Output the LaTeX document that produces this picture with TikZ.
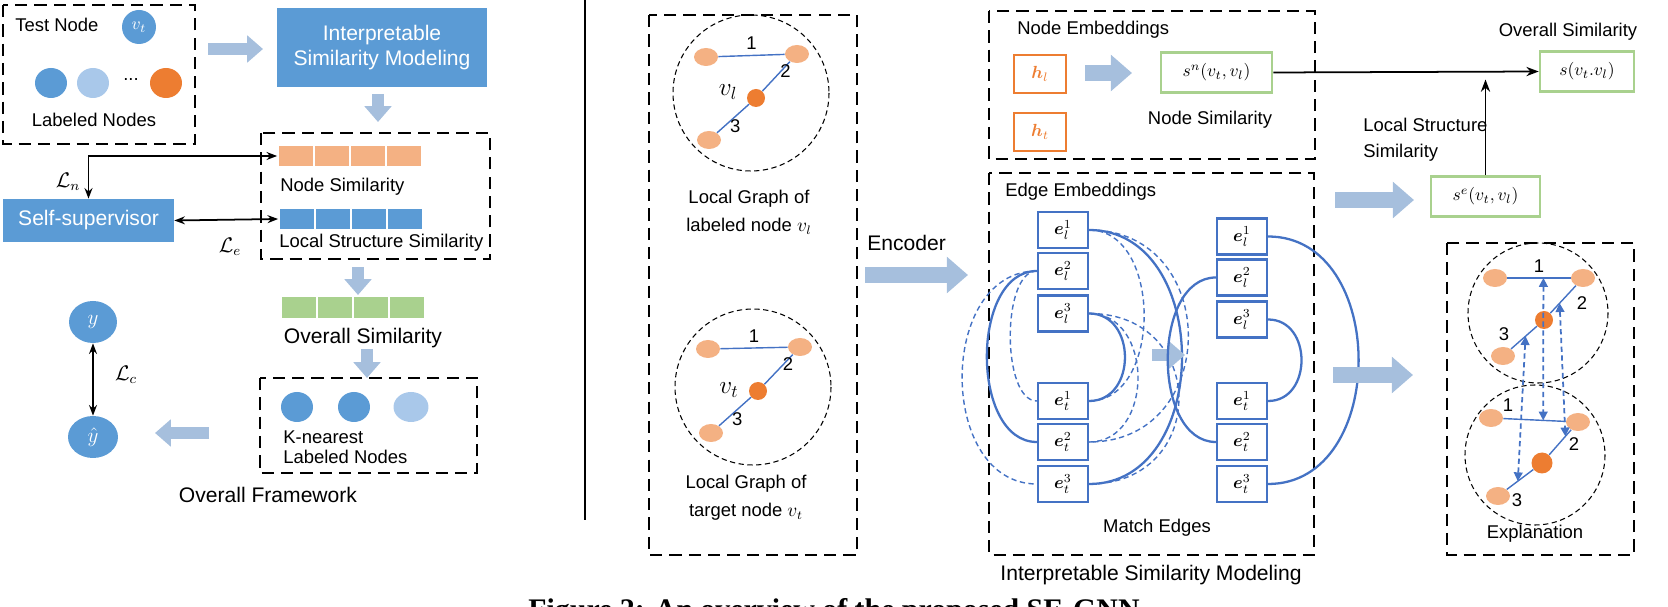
\documentclass[tikz,border=0pt]{standalone}
\usepackage{fontspec}
\usepackage{amsmath}
\setmainfont{Liberation Sans}
\newfontfamily\capfont{Liberation Serif}
\usetikzlibrary{arrows.meta,calc,shapes.geometric}

\definecolor{nblue}{HTML}{5B9BD5}
\definecolor{nlight}{HTML}{A9C8EA}
\definecolor{norange}{HTML}{ED7D31}
\definecolor{npeach}{HTML}{F4B183}
\definecolor{ngreen}{HTML}{A9D18E}
\definecolor{arrowc}{HTML}{A6BFDD}
\definecolor{eblue}{HTML}{4472C4}

\tikzset{
  txt/.style={font=\fontsize{10.5}{12}\selectfont, inner sep=0pt},
  dbox/.style={draw, line width=1.3pt, dash pattern=on 7pt off 4pt},
  bigarrow/.style={draw=arrowc, line width=7pt, -{Triangle[width=15pt,length=9pt]}},
  blk/.style={draw, line width=1pt},
  bluebox/.style={fill=nblue, text=white, font=\fontsize{12}{14}\selectfont, align=center, inner sep=0pt},
  bnode/.style={fill=nblue, draw=none, ellipse, minimum width=0.64cm, minimum height=0.6cm, inner sep=0pt},
  cell/.style={draw=white, line width=1pt, minimum width=0.72cm, minimum height=0.44cm, inner sep=0pt},
  peach/.style={fill=npeach, draw=none, ellipse, minimum width=0.48cm, minimum height=0.36cm, inner sep=0pt},
  core/.style={fill=norange, draw=none, circle, minimum size=0.36cm, inner sep=0pt},
  gedge/.style={draw=eblue, line width=0.8pt},
  gcirc/.style={draw, densely dashed, line width=0.6pt},
  ebox/.style={draw=eblue, line width=1.3pt, minimum width=1cm, minimum height=0.72cm, inner sep=0pt},
  match/.style={draw=eblue, line width=1.3pt},
  dmatch/.style={draw=eblue, line width=0.8pt, dash pattern=on 3pt off 2pt},
  gbox/.style={draw=ngreen, line width=1.5pt, inner sep=3pt, minimum height=0.8cm},
  obox/.style={draw=norange, line width=1.3pt, minimum width=1.04cm, minimum height=0.76cm, inner sep=0pt, text=norange},
  expl/.style={draw=eblue, line width=1pt, dash pattern=on 3pt off 2pt, {Triangle[width=5pt,length=5pt]}-{Triangle[width=5pt,length=5pt]}},
}

\begin{document}
\begin{tikzpicture}[x=0.02cm, y=-0.02cm]
\useasboundingbox (0,0) rectangle (1668,607);

% ---------------- left: overall framework ----------------
\draw[dbox] (3,5) rectangle (195,144);
\node[txt] (tn) at (57,25) {Test Node};
\node[bnode, minimum width=0.68cm, minimum height=0.68cm, text=white] (vt) at (139,27) {$v_t$};
\node[bnode] (ln1) at (51,83) {};
\node[bnode, fill=nlight] (ln2) at (93,83) {};
\node[txt] (lndots) at (131,80) {...};
\node[bnode, fill=norange] (ln3) at (166,83) {};
\node[txt] (lnt) at (94,120) {Labeled Nodes};

\draw[bigarrow] (208,49) -- (263,49);
\node[bluebox, minimum width=4.2cm, minimum height=1.58cm] (ism) at (382,47.5) {Interpretable\\Similarity Modeling};
\draw[bigarrow] (378,94) -- (378,122);

\draw[dbox] (261,133) rectangle (490,259);
\foreach \i in {0,...,3} {
  \node[cell, fill=npeach] (ns\i) at (296+\i*36,156) {};
  \node[cell, fill=nblue] (ls\i) at (297+\i*36,219) {};
}
\node[txt, anchor=west] (nst) at (280,187) {Node Similarity};
\node[txt, anchor=west] (lst) at (279,243) {Local Structure Similarity};

\node[bluebox, minimum width=3.42cm, minimum height=0.86cm] (ss) at (88.5,220.5) {Self-supervisor};
\draw[blk, {Stealth[length=6pt]}-{Stealth[length=6pt]}] (ns0.west) -| (ss.north);
\node[font=\large] (lnl) at (68,182) {$\mathcal{L}_n$};
\draw[blk, {Stealth[length=6pt]}-{Stealth[length=6pt]}] (ss.east) -- (ls0.west);
\node[font=\large] (lel) at (230,247) {$\mathcal{L}_e$};

\draw[bigarrow] (358,267) -- (358,295);
\foreach \i in {0,...,3}
  \node[cell, fill=ngreen] (os\i) at (299+\i*36,307.5) {};
\node[txt, font=\fontsize{12}{14}\selectfont] (ost) at (363,338) {Overall Similarity};
\draw[bigarrow] (367,349) -- (367,378);

\draw[dbox] (260,378) rectangle (477,473);
\node[bnode] (kn1) at (297,407) {};
\node[bnode] (kn2) at (354,407) {};
\node[bnode, fill=nlight, minimum width=0.7cm] (kn3) at (411,407) {};
\node[txt, anchor=west] (knt1) at (283,437) {K-nearest};
\node[txt, anchor=west] (knt2) at (283,457) {Labeled Nodes};
\draw[bigarrow] (209,433) -- (155,433);

\node[bnode, minimum width=0.96cm, minimum height=0.84cm, text=white, font=\large] (y) at (93,322) {$y$};
\node[bnode, minimum width=1cm, minimum height=0.84cm, text=white, font=\large] (yh) at (93,437) {$\hat{y}$};
\draw[blk, {Stealth[length=6pt]}-{Stealth[length=6pt]}] (y) -- (yh);
\node[font=\large] (lcl) at (126,375) {$\mathcal{L}_c$};
\node[txt, font=\fontsize{12}{14}\selectfont] (oft) at (268,495) {Overall Framework};

\draw[line width=1pt] (585,0) -- (585,520);

% ---------------- middle: local graphs ----------------
\draw[dbox] (649,15) rectangle (857,555);
\draw[gcirc] (751,93) circle (78);
\node[peach] (a1) at (706,57) {};
\node[peach] (a2) at (797,54) {};
\node[core] (a0) at (756,98) {};
\node[peach] (a3) at (709,140) {};
\draw[gedge] (a1) -- node[above, txt, yshift=3pt] {1} (a2);
\draw[gedge] (a2) -- node[txt, right, xshift=2pt, yshift=3pt] {2} (a0);
\draw[gedge] (a0) -- node[txt, below right, xshift=-2pt] {3} (a3);
\node[font=\Large] (avl) at (728,92) {$v_l$};
\node[txt, align=center] (at) at (749,212) {Local Graph of\\[4pt]labeled node $v_l$};

\draw[gcirc] (753,387) circle (78);
\node[peach] (b1) at (708,349) {};
\node[peach] (b2) at (800,347) {};
\node[core] (b0) at (758,391) {};
\node[peach] (b3) at (711,433) {};
\draw[gedge] (b1) -- node[above, txt, yshift=3pt] {1} (b2);
\draw[gedge] (b2) -- node[txt, right, xshift=2pt, yshift=3pt] {2} (b0);
\draw[gedge] (b0) -- node[txt, below right, xshift=-2pt] {3} (b3);
\node[font=\Large] (bvt) at (729,390) {$v_t$};
\node[txt, align=center] (bt) at (746,498) {Local Graph of\\[4pt]target node $v_t$};

\node[txt, font=\fontsize{12}{14}\selectfont, anchor=west] (enc) at (867,243) {Encoder};
\draw[bigarrow, line width=9pt, -{Triangle[width=20pt,length=12pt]}] (865,275) -- (968,275);

% ---------------- interpretable similarity modeling ----------------
\draw[dbox] (989,11) rectangle (1315,159);
\node[txt, anchor=west] (net) at (1017,30) {Node Embeddings};
\node[obox] (hl) at (1040,74) {$\boldsymbol{h}_l$};
\node[obox] (ht) at (1040,132) {$\boldsymbol{h}_t$};
\draw[bigarrow, line width=9pt, -{Triangle[width=20pt,length=12pt]}] (1085,73) -- (1132,73);
\node[gbox, minimum width=2.22cm] (sn) at (1216.5,72.5) {$s^n(v_t,v_l)$};
\node[txt] (nsim) at (1210,120) {Node Similarity};

\draw[dbox] (989,173) rectangle (1314,555);
\node[txt, anchor=west] (eet) at (1005,192) {Edge Embeddings};
\foreach \n/\yy/\s/\k in {L1/230/l/1, L2/271/l/2, L3/313.5/l/3, T1/401/t/1, T2/442/t/2, T3/484/t/3}
  \node[ebox] (a\n) at (1063,\yy) {$\boldsymbol{e}_\s^\k$};
\foreach \n/\yy/\s/\k in {L1/236.5/l/1, L2/277.5/l/2, L3/319.5/l/3, T1/401/t/1, T2/442/t/2, T3/484/t/3}
  \node[ebox] (b\n) at (1242,\yy) {$\boldsymbol{e}_\s^\k$};
% candidate matches
\draw[dmatch] (aL1.east) to[out=0, in=0, looseness=1.1] (aT1.east);
\draw[dmatch] (aL1.east) to[out=0, in=0, looseness=1.6] (aT2.east);
\draw[dmatch] (aL3.east) to[out=0, in=0, looseness=1.3] (aT2.east);
\draw[dmatch] (aL3.east) to[out=0, in=0, looseness=1.8] (aT3.east);
\draw[dmatch] (aL2.west) to[out=180, in=180, looseness=0.7] (aT1.west);
\draw[dmatch] (aL2.west) to[out=180, in=180, looseness=1.2] (aT3.west);
% chosen matches
\draw[match] (aL1.east) to[out=0, in=0, looseness=1.25] (aT3.east);
\draw[match] (aL3.east) to[out=0, in=0, looseness=1.4] (aT1.east);
\draw[match] (aL2.west) to[out=180, in=180, looseness=1.0] (aT2.west);
\draw[bigarrow, line width=7pt, -{Triangle[width=15pt,length=9pt]}] (1152,355) -- (1185,355);
\draw[match] (bL1.east) to[out=0, in=0, looseness=1.25] (bT3.east);
\draw[match] (bL3.east) to[out=0, in=0, looseness=1.4] (bT1.east);
\draw[match] (bL2.west) to[out=180, in=180, looseness=1.0] (bT2.west);
\node[txt] (met) at (1157,528) {Match Edges};
\node[txt, font=\fontsize{12}{14}\selectfont] (ismt) at (1151,575) {Interpretable Similarity Modeling};

% ---------------- overall similarity ----------------
\node[txt] (ovt) at (1568,32) {Overall Similarity};
\node[gbox, minimum width=1.88cm] (so) at (1587,71.5) {$s(v_t.v_l)$};
\node[gbox, minimum width=2.18cm] (se) at (1485.5,196.5) {$s^e(v_t,v_l)$};
\draw[blk, -{Stealth[length=7pt]}] (sn.east) -- (so.west);
\coordinate (join) at (se.north |- so.west);
\draw[blk, -{Stealth[length=7pt]}] (se.north) -- ($(join)+(0,8)$);
\node[txt, align=left, anchor=west] (lsst) at (1363,140) {Local Structure\\[3pt]Similarity};
\draw[bigarrow, line width=9pt, -{Triangle[width=20pt,length=12pt]}] (1335,200) -- (1414,200);
\draw[bigarrow, line width=9pt, -{Triangle[width=20pt,length=12pt]}] (1333,375) -- (1413,375);

% ---------------- explanation ----------------
\draw[dbox] (1447,243) rectangle (1634,555);
\draw[gcirc] (1538,313) circle (70);
\draw[gcirc] (1535,455) circle (70);
\node[peach] (c1) at (1495,278) {};
\node[peach] (c2) at (1583,278) {};
\node[core] (c0) at (1544,320) {};
\node[peach] (c3) at (1503,356) {};
\draw[gedge] (c1) -- node[above, txt, yshift=3pt] {1} (c2);
\draw[gedge] (c2) -- (c0);
\draw[gedge] (c0) -- (c3);
\node[txt] (c2l) at (1582,303) {2};
\node[txt] (c3l) at (1504,334) {3};
\node[peach] (d1) at (1491,418) {};
\node[peach] (d2) at (1578,422) {};
\node[core, minimum size=0.42cm] (d0) at (1542,463) {};
\node[peach] (d3) at (1498,496) {};
\draw[gedge] (d1) -- (d2);
\draw[gedge] (d2) -- (d0);
\draw[gedge] (d0) -- (d3);
\node[txt] (d1l) at (1508,405) {1};
\node[txt] (d2l) at (1574,444) {2};
\node[txt] (d3l) at (1517,500) {3};
\draw[expl] ($(c0)!0.45!(c3)$) -- ($(d0)!0.55!(d3)$);
\draw[expl] ($(c1)!0.55!(c2)$) -- ($(d1)!0.6!(d2)$);
\draw[expl] ($(c2)!0.6!(c0)$) -- ($(d2)!0.35!(d0)$);
\node[txt] (ext) at (1535,534) {Explanation};

% ---------------- caption (cut off by the frame) ----------------
\node[font=\capfont\bfseries\fontsize{17}{19}\selectfont, anchor=north] (cap) at (834,592) {Figure 2: An overview of the proposed SE-GNN};
\end{tikzpicture}
\end{document}
